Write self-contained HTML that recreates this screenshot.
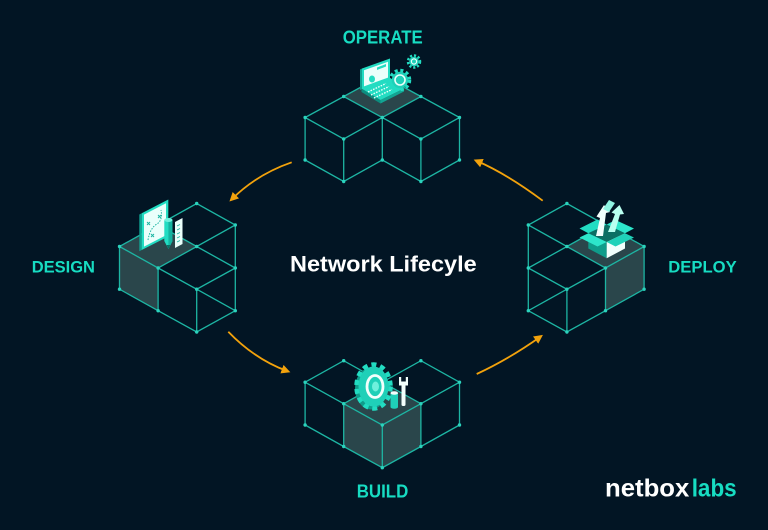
<!DOCTYPE html>
<html>
<head>
<meta charset="utf-8">
<style>
  html,body{margin:0;padding:0;background:#021524;}
  svg{display:block;}
  text{font-family:"Liberation Sans",Arial,sans-serif;font-weight:bold;}
</style>
</head>
<body>
<svg width="768" height="530" viewBox="0 0 768 530" xmlns="http://www.w3.org/2000/svg">
  <defs>
    <marker id="ah" viewBox="0 0 10 10" refX="6" refY="5" markerUnits="userSpaceOnUse" markerWidth="9" markerHeight="9" orient="auto">
      <path d="M0,0 L10,5 L0,10 Z" fill="#f2a20c"/>
    </marker>
  </defs>
  <rect width="768" height="530" fill="#021524"/>

  <!-- DESIGN cubes -->
  <g id="dz">
    <path d="M119.5,246.5 L158.1,225 L196.7,246.5 L158.1,268 Z M119.5,246.5 L158.1,268 L158.1,310.7 L119.5,289.2 Z" fill="#2a464b"/>
    <path d="M119.5,246.5L158.1,225L196.7,203.5L235.3,225L196.7,246.5L158.1,225 M119.5,246.5L158.1,268L196.7,246.5L235.3,268 M158.1,268L196.7,289.2L235.3,268 M235.3,225V310.7 M119.5,246.5V289.2 M158.1,268V310.7 M196.7,289.2V332 M119.5,289.2L158.1,310.7L196.7,332L235.3,310.7 M196.7,289.2L235.3,310.7" fill="none" stroke="#1db5a3" stroke-width="1.3"/>
    <g fill="#2bd3bd">
      <circle cx="119.5" cy="246.5" r="1.7"/><circle cx="196.7" cy="203.5" r="1.7"/>
      <circle cx="235.3" cy="225" r="1.7"/><circle cx="196.7" cy="246.5" r="1.7"/>
      <circle cx="158.1" cy="268" r="1.7"/><circle cx="235.3" cy="268" r="1.7"/>
      <circle cx="196.7" cy="289.2" r="1.7"/><circle cx="119.5" cy="289.2" r="1.7"/>
      <circle cx="158.1" cy="310.7" r="1.7"/><circle cx="235.3" cy="310.7" r="1.7"/>
      <circle cx="196.7" cy="332" r="1.7"/>
    </g>
  </g>
  <!-- DEPLOY cubes (mirror) -->
  <use href="#dz" transform="matrix(-1 0 0 1 763.6 0)"/>

  <!-- OPERATE cubes -->
  <path d="M343.7,96.5 L382.3,75.5 L420.9,96.5 L382.3,117.5 Z" fill="#2a464b"/>
  <path d="M305.1,117.5 L343.7,96.5 L382.3,117.5 L420.9,96.5 L459.5,117.5 M305.1,117.5 L343.7,139 L382.3,117.5 L420.9,139 L459.5,117.5 M343.7,96.5 L382.3,75.5 L420.9,96.5 M305.1,117.5V160 M343.7,139V181.5 M382.3,117.5V160 M420.9,139V181.5 M459.5,117.5V160 M305.1,160 L343.7,181.5 L382.3,160 L420.9,181.5 L459.5,160" fill="none" stroke="#1db5a3" stroke-width="1.3"/>
  <g fill="#2bd3bd">
    <circle cx="305.1" cy="117.5" r="1.7"/><circle cx="343.7" cy="96.5" r="1.7"/>
    <circle cx="382.3" cy="117.5" r="1.7"/><circle cx="420.9" cy="96.5" r="1.7"/>
    <circle cx="459.5" cy="117.5" r="1.7"/><circle cx="343.7" cy="139" r="1.7"/>
    <circle cx="420.9" cy="139" r="1.7"/><circle cx="305.1" cy="160" r="1.7"/>
    <circle cx="382.3" cy="160" r="1.7"/><circle cx="459.5" cy="160" r="1.7"/>
    <circle cx="343.7" cy="181.5" r="1.7"/><circle cx="420.9" cy="181.5" r="1.7"/>
  </g>

  <!-- BUILD cubes -->
  <path d="M343.7,403.7 L382.3,382.2 L420.9,403.7 L420.9,446.5 L382.3,467.7 L343.7,446.5 Z" fill="#2a464b"/>
  <path d="M305.1,382.2 L343.7,360.7 L382.3,382.2 L420.9,360.7 L459.5,382.2 L420.9,403.7 L382.3,425 L343.7,403.7 Z M343.7,403.7 L382.3,382.2 L420.9,403.7 M305.1,382.2V425 M343.7,403.7V446.5 M382.3,425V467.7 M420.9,403.7V446.5 M459.5,382.2V425 M305.1,425 L343.7,446.5 L382.3,467.7 L420.9,446.5 L459.5,425" fill="none" stroke="#1db5a3" stroke-width="1.3"/>
  <g fill="#2bd3bd">
    <circle cx="305.1" cy="382.2" r="1.7"/><circle cx="343.7" cy="360.7" r="1.7"/>
    <circle cx="420.9" cy="360.7" r="1.7"/><circle cx="459.5" cy="382.2" r="1.7"/>
    <circle cx="343.7" cy="403.7" r="1.7"/><circle cx="420.9" cy="403.7" r="1.7"/>
    <circle cx="382.3" cy="425" r="1.7"/><circle cx="305.1" cy="425" r="1.7"/>
    <circle cx="459.5" cy="425" r="1.7"/><circle cx="343.7" cy="446.5" r="1.7"/>
    <circle cx="420.9" cy="446.5" r="1.7"/><circle cx="382.3" cy="467.7" r="1.7"/>
  </g>

  <!-- OPERATE icon: laptop + gears -->
  <polygon points="361.5,88.5 380.5,100 380.5,103.5 361.5,92" fill="#0c8d7f"/>
  <polygon points="380.5,100 404,88.5 404,91.5 380.5,103.5" fill="#12a593"/>
  <polygon points="361.5,88.5 389,77 404,88.5 380.5,100" fill="#22dcc2"/>
  <path d="M368,92 L386,83.5 M371,95 L389,86.5 M374,98 L392,89.5" stroke="#eafffb" stroke-width="1.4" stroke-dasharray="1.6 1.2" fill="none"/>
  <polygon points="360,69.5 362,68.5 362,89 360,90" fill="#10a190"/>
  <polygon points="362,68.5 390,58.5 390,79 362,89" fill="#22dcc2"/>
  <polygon points="364,70.3 388,61.7 388,77.6 364,86.4" fill="#eafffb"/>
  <ellipse cx="372" cy="79" rx="3" ry="3.5" fill="#22dcc2"/>
  <polygon points="377,67.5 386,64 386,66.5 377,70" fill="#22dcc2"/>
  <g transform="translate(400,80)">
    <circle r="9.5" fill="none" stroke="#22dcc2" stroke-width="3.5" stroke-dasharray="3 2.6"/>
    <circle r="8.2" fill="#1fd0b8"/>
    <circle r="5" fill="none" stroke="#eafffb" stroke-width="1.6"/>
    <circle r="2.4" fill="#1fd0b8"/>
  </g>
  <g transform="translate(414,61.5)">
    <circle r="6" fill="none" stroke="#22dcc2" stroke-width="2.5" stroke-dasharray="2.2 1.8"/>
    <circle r="4.8" fill="#1fd0b8"/>
    <circle r="2.6" fill="none" stroke="#eafffb" stroke-width="1.2"/>
  </g>

  <!-- DESIGN icon: board, pencil, ruler -->
  <polygon points="139.3,214.5 141.7,213.3 141.7,250 139.3,251.2" fill="#0fa090"/>
  <polygon points="141.7,213.3 168.3,199.5 168.3,236.5 141.7,250" fill="#22dcc2"/>
  <polygon points="144,214.6 166,203.2 166,235.2 144,246.6" fill="#eafffb"/>
  <path d="M148,240 Q150,228 157,224 Q163,220 161,210" fill="none" stroke="#1db5a3" stroke-width="1" stroke-dasharray="1.5 1.3"/>
  <path d="M147,222 l3,3 M150,222 l-3,3 M158,215 l3,3 M161,215 l-3,3 M151,234 l3,3 M154,234 l-3,3" stroke="#1db5a3" stroke-width="1"/>
  <polygon points="175,222 182.5,218 182.5,244 175,248" fill="#eafffb"/>
  <path d="M177,226 l3,-1.5 M177,230 l3,-1.5 M177,234 l3,-1.5 M177,238 l3,-1.5 M177,242 l3,-1.5" stroke="#1db5a3" stroke-width="0.8"/>
  <polygon points="164.3,220 172.5,220 172.5,241 168.4,249 164.3,241" fill="#22dcc2"/>
  <polygon points="168.4,220 172.5,220 172.5,241 168.4,249" fill="#14b3a0"/>
  <ellipse cx="168.4" cy="220" rx="4.1" ry="2" fill="#6ff0dc"/>
  <polygon points="166.5,245 170.3,245 168.4,249" fill="#0a6e62"/>

  <!-- DEPLOY icon: open box -->
  <polygon points="588.3,233.3 606.7,224.5 625,233.3 606.7,242" fill="#0b6f63"/>
  <polygon points="606.7,224.5 625,233.3 634,228.5 615.5,220" fill="#2de6cb"/>
  <polygon points="588.3,233.3 606.7,224.5 597.5,219.5 579.5,228.5" fill="#22dcc2"/>
  <polygon points="596,236 600,218 596.5,216.5 604,205 610,212 606,213 603,236" fill="#f2fffc"/>
  <polygon points="608,232 615,214 611.5,212.5 619.5,205 624,214 620,214.5 615,232" fill="#b9fff0"/>
  <polygon points="603,209 609,200 615,203 609,212" fill="#8ff5e3"/>
  <polygon points="588.3,233.3 606.7,242 606.7,258.3 588.3,248.5" fill="#0f9c8a"/>
  <polygon points="606.7,242 625,233.3 625,248.5 606.7,258.3" fill="#f2fffc"/>
  <polygon points="588.3,233.3 606.7,242 597.5,246.5 579.5,237.5" fill="#2de6cb"/>
  <polygon points="606.7,242 625,233.3 634,237.5 615.5,246.5" fill="#1fd2b9"/>

  <!-- BUILD icon: gear, cylinder, wrench -->
  <ellipse cx="371" cy="388.5" rx="16" ry="21" fill="#0f9c8a"/>
  <ellipse cx="373.5" cy="386.5" rx="17" ry="22" fill="none" stroke="#22dcc2" stroke-width="4.5" stroke-dasharray="5 4"/>
  <ellipse cx="373.5" cy="386.5" rx="15" ry="20" fill="#1fd0b8"/>
  <ellipse cx="375" cy="386.5" rx="8" ry="11" fill="#1fd0b8" stroke="#f2fffc" stroke-width="2.8"/>
  <ellipse cx="375.5" cy="386.5" rx="3.5" ry="5" fill="#6ff0dc"/>
  <rect x="390.5" y="393" width="7.5" height="14" fill="#1fd0b8"/>
  <ellipse cx="394.25" cy="407" rx="3.75" ry="1.8" fill="#1fd0b8"/>
  <ellipse cx="394.25" cy="393" rx="3.75" ry="1.8" fill="#f2fffc"/>
  <rect x="401.5" y="383" width="4" height="23" rx="1.5" fill="#f2fffc"/>
  <path d="M399,377 L399,385.5 L408,385.5 L408,377 L405.8,377 L405.8,381.5 L401.2,381.5 L401.2,377 Z" fill="#f2fffc"/>

  <!-- Arrows -->
  <g fill="none" stroke="#f2a20c" stroke-width="1.8" marker-end="url(#ah)">
    <path d="M291.7,162.3 Q256.9,174.3 232,199"/>
    <path d="M228.3,331.7 Q254.6,359 287,371"/>
    <path d="M476.7,374 Q509,359 540,337"/>
    <path d="M542.7,200.7 Q507,174 477,161"/>
  </g>

  <!-- Labels -->
  <text x="342.7" y="43.3" font-size="18" fill="#17dcc2" textLength="80" lengthAdjust="spacingAndGlyphs">OPERATE</text>
  <text x="31.7" y="272.3" font-size="17" fill="#17dcc2" textLength="63.3" lengthAdjust="spacingAndGlyphs">DESIGN</text>
  <text x="668.3" y="272.3" font-size="17" fill="#17dcc2" textLength="68.4" lengthAdjust="spacingAndGlyphs">DEPLOY</text>
  <text x="356.7" y="497.3" font-size="18" fill="#17dcc2" textLength="51.6" lengthAdjust="spacingAndGlyphs">BUILD</text>
  <text x="290" y="271.7" font-size="22" fill="#ffffff" textLength="186.7" lengthAdjust="spacingAndGlyphs">Network Lifecyle</text>
  <text x="605" y="496.7" font-size="25" fill="#ffffff" textLength="84.3" lengthAdjust="spacingAndGlyphs">netbox</text>
  <text x="691.7" y="496.7" font-size="25" fill="#17dcc2" textLength="45" lengthAdjust="spacingAndGlyphs">labs</text>
</svg>
</body>
</html>
